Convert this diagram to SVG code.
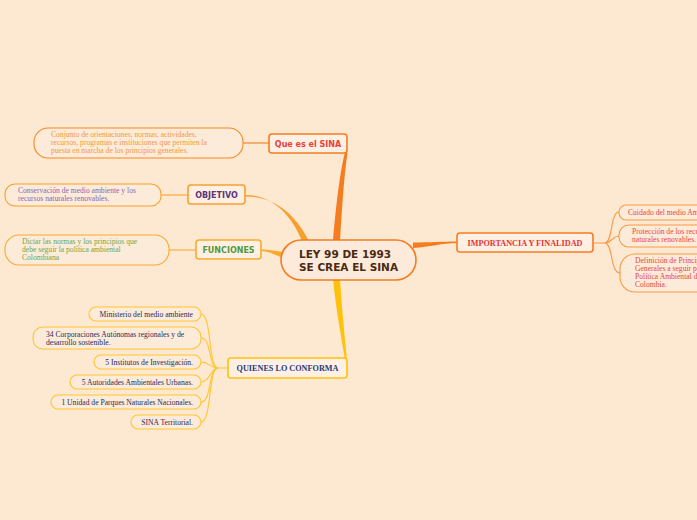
<svg xmlns="http://www.w3.org/2000/svg" width="697" height="520" viewBox="0 0 697 520">
<style>
.bg{fill:#fde8d2}
.main{fill:#fdeada;stroke:#f57c1f;stroke-width:1.6}
.node{fill:#fff0e3;stroke-width:1.6}
.pill{fill:#fdebd9;stroke-width:1.1}
.sans{font-family:"DejaVu Sans",Verdana,sans-serif;font-weight:bold}
.serif{font-family:"DejaVu Serif","Liberation Serif",serif}
.small{font-family:"Liberation Serif","Times New Roman",serif;font-size:7.6px}
.thin{fill:none;stroke-width:1.1}
</style>
<rect class="bg" width="697" height="520"/>
<g id="connectors">
  <path d="M333,241 C336,205 340,172 345,152 L347.5,153 C344,176 342,208 340,241 Z" fill="#f57c1f"/>
  <path d="M245,195 C272,195 291,214 302,241 L309,241 C294,212 273,196.5 245,196.5 Z" fill="#f8a02c"/>
  <path d="M261,249.5 C270,249.5 275,251 283,252 L283,258 C275,255 269,251 261,251 Z" fill="#f9aa2c"/>
  <path d="M333,279 C336,310 341,335 345,360 L347,360 C344.5,335 342,310 340,279 Z" fill="#ffc10c"/>
  <path d="M413,242.5 C430,242.5 442,241.5 457,241.5 L457,243 C442,243 430,247 413,248 Z" fill="#f57c1f"/>
  <path class="thin" stroke="#f57c1f" d="M243,143 L269,143"/>
  <path class="thin" stroke="#f8a02c" d="M161,195 L188,195"/>
  <path class="thin" stroke="#f9aa2c" d="M169,250 L196,250"/>
  <g class="thin" stroke="#ffc52e">
    <path d="M201,314 C212,314 208,368 218,368 L228,368"/>
    <path d="M201,338 C212,338 208,368 218,368"/>
    <path d="M201,362 C210,362 210,368 218,368"/>
    <path d="M201,382 C210,382 210,368 218,368"/>
    <path d="M201,402 C212,402 208,368 218,368"/>
    <path d="M201,422 C212,422 208,368 218,368"/>
  </g>
  <g class="thin" stroke="#f79a45">
    <path d="M593,243 L605,243 C613,243 610,212 619,212"/>
    <path d="M605,243 C612,243 612,236 619,236"/>
    <path d="M605,243 C613,243 610,273 620,273"/>
  </g>
</g>
<g id="central">
  <rect class="main" x="281" y="240" width="135" height="40" rx="20"/>
  <text class="sans" font-size="10.5" fill="#4a2a12" x="299" y="258">LEY 99 DE 1993</text>
  <text class="sans" font-size="10.5" fill="#4a2a12" x="299" y="271">SE CREA EL SINA</text>
</g>
<g id="que-es">
  <rect class="node" stroke="#f57c1f" x="269" y="134" width="78" height="19" rx="3"/>
  <text class="sans" font-size="8" fill="#e8423a" x="308" y="146.5" text-anchor="middle">Que es el SINA</text>
</g>
<g id="que-es-desc">
  <rect class="pill" stroke="#f58a25" x="34" y="128" width="209" height="30" rx="14"/>
  <text class="small" fill="#f0993c"><tspan x="51" y="137">Conjunto de orientaciones, normas, actividades,</tspan><tspan x="51" y="145">recursos, programas e instituciones que permiten la</tspan><tspan x="51" y="153">puesta en marcha de los principios generales.</tspan></text>
</g>
<g id="objetivo">
  <rect class="node" stroke="#f8a02c" x="188" y="185" width="57" height="19" rx="3"/>
  <text class="sans" font-size="8" fill="#5a3578" x="216.5" y="197.5" text-anchor="middle">OBJETIVO</text>
</g>
<g id="objetivo-desc">
  <rect class="pill" stroke="#f8a02c" x="5" y="184" width="156" height="22" rx="10"/>
  <text class="small" fill="#8866b5"><tspan x="18" y="193">Conservación de medio ambiente y los</tspan><tspan x="18" y="201">recursos naturales renovables.</tspan></text>
</g>
<g id="funciones">
  <rect class="node" stroke="#f9aa2c" x="196" y="240" width="65" height="19" rx="3"/>
  <text class="sans" font-size="8" fill="#4f9a3c" x="228.5" y="252.5" text-anchor="middle">FUNCIONES</text>
</g>
<g id="funciones-desc">
  <rect class="pill" stroke="#f9aa2c" x="5" y="235" width="164" height="30" rx="14"/>
  <text class="small" fill="#6aa84f"><tspan x="22" y="244">Dictar las normas y los principios que</tspan><tspan x="22" y="252">debe seguir la política ambiental</tspan><tspan x="22" y="260">Colombiana</tspan></text>
</g>
<g id="importancia">
  <rect class="node" stroke="#f57c1f" x="457" y="233" width="136" height="19" rx="3"/>
  <text font-family="Liberation Serif,serif" font-weight="bold" font-size="8.2" fill="#e03535" x="525" y="245.5" text-anchor="middle">IMPORTANCIA Y FINALIDAD</text>
</g>
<g id="imp-1">
  <rect class="pill" stroke="#f79a45" x="619" y="205" width="100" height="15" rx="7"/>
  <text class="small" fill="#e64545" x="628" y="215">Cuidado del medio Ambiente</text>
</g>
<g id="imp-2">
  <rect class="pill" stroke="#f79a45" x="619" y="225" width="100" height="22" rx="10"/>
  <text class="small" fill="#e64545"><tspan x="632" y="234">Protección de los recursos</tspan><tspan x="632" y="242">naturales renovables.</tspan></text>
</g>
<g id="imp-3">
  <rect class="pill" stroke="#f79a45" x="620" y="254" width="100" height="38" rx="15"/>
  <text class="small" fill="#e64545"><tspan x="635" y="263">Definición de Principios</tspan><tspan x="635" y="271">Generales a seguir por la</tspan><tspan x="635" y="279">Política Ambiental de</tspan><tspan x="635" y="287">Colombia.</tspan></text>
</g>
<g id="quienes">
  <rect class="node" stroke="#ffc10c" x="228" y="358" width="119" height="20" rx="3"/>
  <text font-family="Liberation Serif,serif" font-weight="bold" font-size="8.2" fill="#253a7a" x="287.5" y="371" text-anchor="middle">QUIENES LO CONFORMA</text>
</g>
<g id="q-1">
  <rect class="pill" stroke="#ffc52e" x="89" y="307" width="112" height="14" rx="7"/>
  <text class="small" fill="#2a2a55" x="193" y="317" text-anchor="end">Ministerio del medio ambiente</text>
</g>
<g id="q-2">
  <rect class="pill" stroke="#ffc52e" x="33" y="327" width="168" height="22" rx="10"/>
  <text class="small" fill="#2a2a55"><tspan x="46" y="336.5">34 Corporaciones Autónomas regionales y de</tspan><tspan x="46" y="344.5">desarrollo sostenible.</tspan></text>
</g>
<g id="q-3">
  <rect class="pill" stroke="#ffc52e" x="94" y="355" width="107" height="14" rx="7"/>
  <text class="small" fill="#2a2a55" x="193" y="365" text-anchor="end">5 Institutos de Investigación.</text>
</g>
<g id="q-4">
  <rect class="pill" stroke="#ffc52e" x="70" y="375" width="131" height="14" rx="7"/>
  <text class="small" fill="#2a2a55" x="193" y="385" text-anchor="end">5 Autoridades Ambientales Urbanas.</text>
</g>
<g id="q-5">
  <rect class="pill" stroke="#ffc52e" x="51" y="395" width="150" height="14" rx="7"/>
  <text class="small" fill="#2a2a55" x="193" y="405" text-anchor="end">1 Unidad de Parques Naturales Nacionales.</text>
</g>
<g id="q-6">
  <rect class="pill" stroke="#ffc52e" x="131" y="415" width="70" height="14" rx="7"/>
  <text class="small" fill="#2a2a55" x="193" y="425" text-anchor="end">SINA Territorial.</text>
</g>
</svg>
